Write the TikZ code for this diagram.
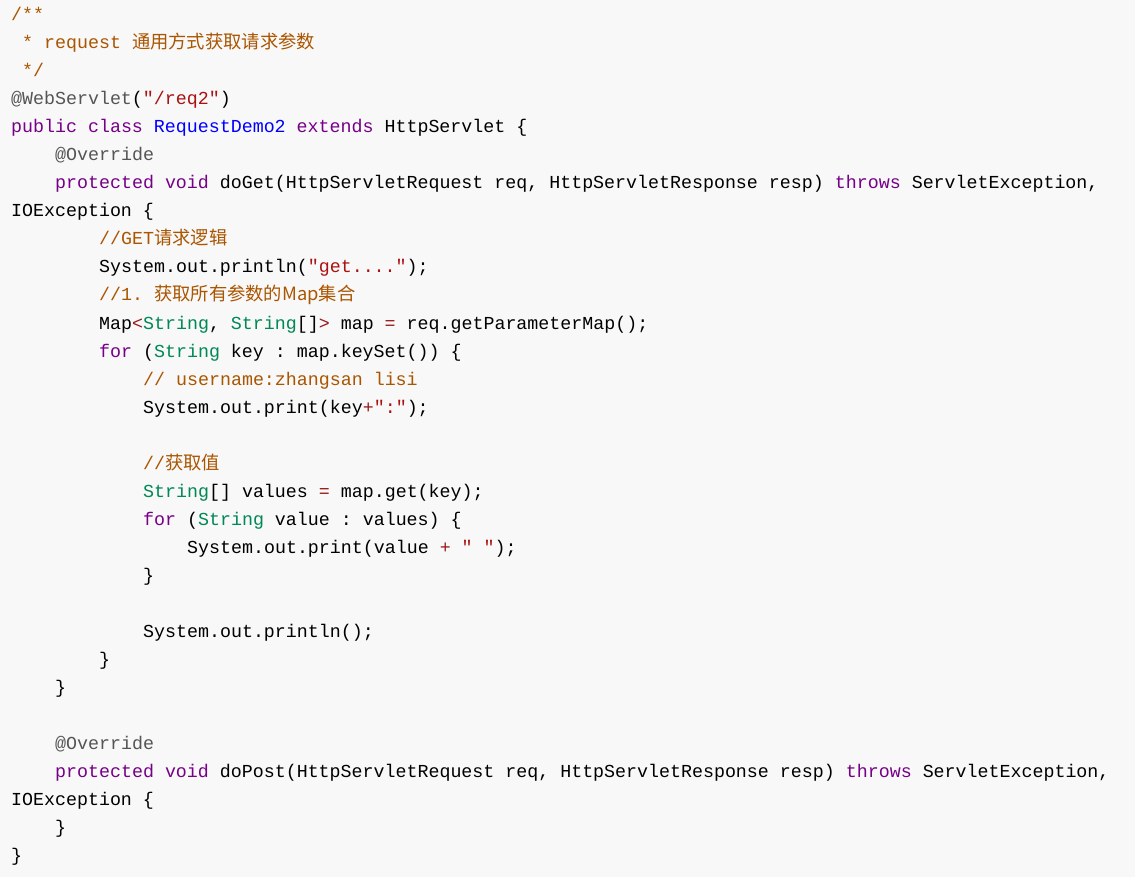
\documentclass[tikz,border=0pt]{standalone}
\usepackage{fontspec}
\setmonofont{Liberation Mono}
\newfontfamily\cjk{Noto Sans CJK SC}
\definecolor{bg}{HTML}{F8F8F8}
\definecolor{ckw}{HTML}{770088}
\definecolor{cty}{HTML}{008855}
\definecolor{cst}{HTML}{AA1111}
\definecolor{ccm}{HTML}{AA5500}
\definecolor{cmt}{HTML}{555555}
\definecolor{cdf}{HTML}{0000FF}
\definecolor{cop}{HTML}{981A1A}
\newcommand\kw[1]{\textcolor{ckw}{#1}}
\newcommand\ty[1]{\textcolor{cty}{#1}}
\newcommand\str[1]{\textcolor{cst}{#1}}
\newcommand\cm[1]{\textcolor{ccm}{#1}}
\newcommand\mt[1]{\textcolor{cmt}{#1}}
\newcommand\df[1]{\textcolor{cdf}{#1}}
\newcommand\op[1]{\textcolor{cop}{#1}}
\newcommand\zh[1]{{\cjk #1}}
\begin{document}
\begin{tikzpicture}[x=1pt,y=-1pt,
  ln/.style={anchor=base west,inner sep=0pt,font=\ttfamily\fontsize{18.3}{20}\selectfont}]
\fill[bg] (0,0) rectangle (1135,877);
\useasboundingbox (0,0) rectangle (1135,877);
\def\L#1#2#3{\node[ln] (l#1) at ({11+44*#2},{28*(#1-1)+21}) {#3};}
\L{1}{0}{\cm{/**}}
\L{2}{0.25}{\cm{* request \zh{通用方式获取请求参数}}}
\L{3}{0.25}{\cm{*/}}
\L{4}{0}{\mt{@WebServlet}(\str{"/req2"})}
\L{5}{0}{\kw{public} \kw{class} \df{RequestDemo2} \kw{extends} HttpServlet \{}
\L{6}{1}{\mt{@Override}}
\L{7}{1}{\kw{protected} \kw{void} doGet(HttpServletRequest req, HttpServletResponse resp) \kw{throws} ServletException,}
\L{8}{0}{IOException \{}
\L{9}{2}{\cm{//GET\zh{请求逻辑}}}
\L{10}{2}{System.out.println(\str{"get...."});}
\L{11}{2}{\cm{//1. \zh{获取所有参数的Map集合}}}
\L{12}{2}{Map\op{<}\ty{String}, \ty{String}[]\op{>} map \op{=} req.getParameterMap();}
\L{13}{2}{\kw{for} (\ty{String} key : map.keySet()) \{}
\L{14}{3}{\cm{// username:zhangsan lisi}}
\L{15}{3}{System.out.print(key\op{+}\str{":"});}
\L{17}{3}{\cm{//\zh{获取值}}}
\L{18}{3}{\ty{String}[] values \op{=} map.get(key);}
\L{19}{3}{\kw{for} (\ty{String} value : values) \{}
\L{20}{4}{System.out.print(value \op{+} \str{" "});}
\L{21}{3}{\}}
\L{23}{3}{System.out.println();}
\L{24}{2}{\}}
\L{25}{1}{\}}
\L{27}{1}{\mt{@Override}}
\L{28}{1}{\kw{protected} \kw{void} doPost(HttpServletRequest req, HttpServletResponse resp) \kw{throws} ServletException,}
\L{29}{0}{IOException \{}
\L{30}{1}{\}}
\L{31}{0}{\}}
\end{tikzpicture}
\end{document}
